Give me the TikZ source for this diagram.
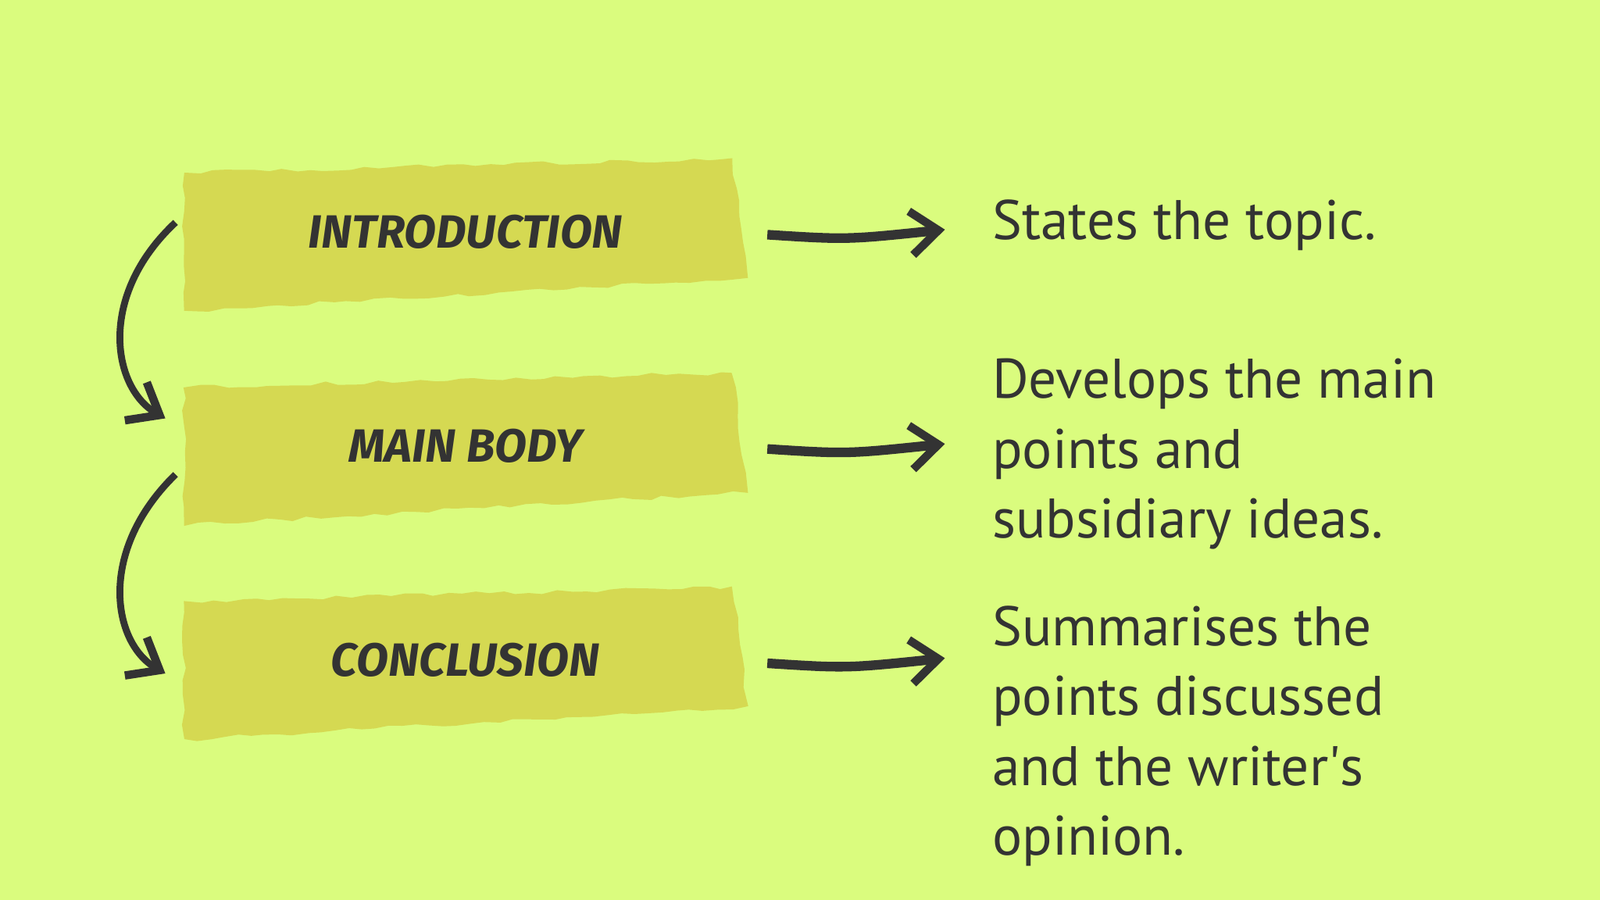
\documentclass[tikz,border=0pt]{standalone}
\usepackage{fontspec}
\setmainfont{PT Sans}
\newfontfamily\brush{Fira Sans}
\usetikzlibrary{arrows.meta,decorations.pathmorphing}
\definecolor{bg}{HTML}{DAFC7E}
\definecolor{boxc}{HTML}{D5D952}
\definecolor{ink}{HTML}{333333}
\tikzset{
 brushbox/.style={fill=boxc,draw=boxc,line width=2pt,decorate,decoration={random steps,segment length=5pt,amplitude=0.8pt}},
 lab/.style={text=ink,font=\brush\bfseries\itshape\fontsize{17}{20}\selectfont},
 desc/.style={text=ink,anchor=north west,align=left,font=\fontsize{20.3}{25.5}\selectfont,inner sep=0pt},
 arr/.style={ink,line width=3.5pt,-{Straight Barb[length=10pt,width=16pt,line width=3pt]}},
}
\begin{document}
\begin{tikzpicture}[x=0.01306cm,y=-0.01306cm]
\fill[bg] (0,0) rectangle (1568,882);
\useasboundingbox (0,0) rectangle (1568,882);
\foreach \n/\y/\t in {a/230/INTRODUCTION,b/440/MAIN BODY,c/650/CONCLUSION}{
 \draw[brushbox] (183,\y-58) -- (715,\y-72) -- (730,\y+40) -- (183,\y+72) -- cycle;
 \node[lab] (\n) at (456,\y-3) {\t};
 \coordinate (\n s) at (752,\y);
 \coordinate (\n e) at (926,\y-5);
 \draw[arr] (\n s) .. controls (830,\y+5) .. (\n e);
}
\coordinate (p1) at (172,218); \coordinate (q1) at (162,410);
\coordinate (p2) at (172,465); \coordinate (q2) at (162,660);
\draw[arr,line width=2.5pt] (p1) .. controls (95,290) and (110,380) .. (q1);
\draw[arr,line width=2.5pt] (p2) .. controls (95,540) and (110,630) .. (q2);
\node[desc] (d1) at (972,195) {States the topic.};
\node[desc] (d2) at (972,351) {Develops the main\\points and\\subsidiary ideas.};
\node[desc] (d3) at (972,593) {Summarises the\\points discussed\\and the writer\textquotesingle s\\opinion.};
\end{tikzpicture}
\end{document}
